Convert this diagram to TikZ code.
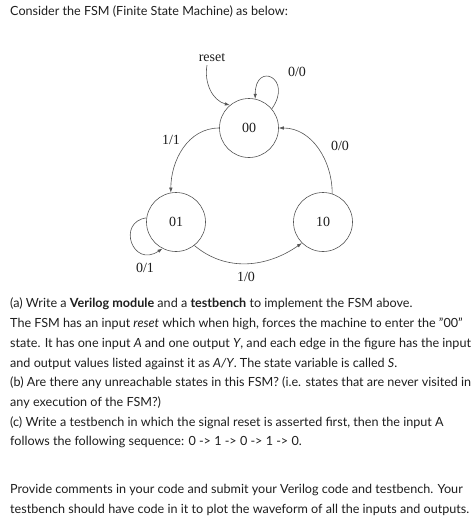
\documentclass[tikz,border=0pt]{standalone}
\usepackage{fontspec}
\setmainfont{Lato}
\newfontfamily\diagfont{Liberation Serif}
\usepackage{tikz}
\usetikzlibrary{arrows.meta, positioning}
\definecolor{inktext}{RGB}{30,30,30}
\definecolor{inkline}{RGB}{85,85,85}

\begin{document}
\begin{tikzpicture}[
  x=1pt, y=-1pt,
  state/.style={circle, draw=inkline, line width=0.6pt, minimum size=59pt, inner sep=0pt, font=\diagfont\fontsize{14}{14}\selectfont, text=inktext},
  lbl/.style={font=\diagfont\fontsize{14}{14}\selectfont, text=inktext, inner sep=0pt},
  trans/.style={draw=inkline, line width=0.6pt, -{Latex[length=5pt, width=3.5pt]}}
]
  \useasboundingbox (0,0) rectangle (474,522);

  % heading
  \node[anchor=base west, inner sep=0pt, text=inktext, font=\fontsize{12.6}{15}\selectfont] (title) at (10,16)
    {Consider the FSM (Finite State Machine) as below:};

  % states
  \node[state] (s00) at (249,128) {00};
  \node[state] (s01) at (176,222) {01};
  \node[state] (s10) at (323,222) {10};

  % reset entry
  \node[lbl] (reset) at (212,58) {reset};
  \draw[trans] ([xshift=-5pt, yshift=-3pt]reset.south) to[out=-100, in=165] (s00.130);

  % transitions
  \draw[trans] (s00.40) to[out=55, in=90, looseness=5] (s00.78);
  \draw[trans] (s00.west) to[out=180, in=90] (s01.100);
  \draw[trans] (s10.72) to[out=90, in=0] (s00.east);
  \draw[trans] (s01.172) .. controls +(-30,4) and +(-30,20) .. (s01.243);
  \draw[trans] (s01.-52) to[out=-40, in=-145] (s10.-135);

  % labels A/Y
  \node[lbl] (l00a) at (297,72) {0/0};
  \node[lbl] (l11)  at (171,140) {1/1};
  \node[lbl] (l00b) at (340,146) {0/0};
  \node[lbl] (l01)  at (145,268) {0/1};
  \node[lbl] (l10)  at (246,277) {1/0};

  % question text
  \node[anchor=north west, inner sep=0pt, align=left, text=inktext, font=\fontsize{12.6}{19.7}\selectfont] (question) at (10,298)
    {(a) Write a \textbf{Verilog module} and a \textbf{testbench} to implement the FSM above.\\
     The FSM has an input \textit{reset} which when high, forces the machine to enter the "00"\\
     state. It has one input \textit{A} and one output \textit{Y}, and each edge in the figure has the input\\
     and output values listed against it as \textit{A/Y}. The state variable is called \textit{S}.\\
     (b) Are there any unreachable states in this FSM? (i.e. states that are never visited in\\
     any execution of the FSM?)\\
     (c) Write a testbench in which the signal reset is asserted first, then the input A\\
     follows the following sequence: 0 -> 1 -> 0 -> 1 -> 0.\\[28pt]
     Provide comments in your code and submit your Verilog code and testbench. Your\\
     testbench should have code in it to plot the waveform of all the inputs and outputs.};
\end{tikzpicture}
\end{document}
